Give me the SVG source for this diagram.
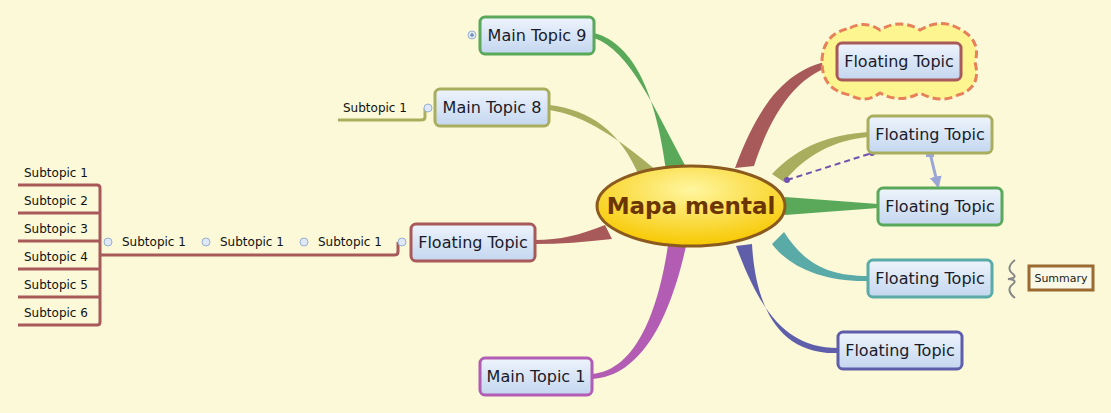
<svg xmlns="http://www.w3.org/2000/svg" width="1111" height="413" viewBox="0 0 1111 413">
<defs>
<linearGradient id="nb" x1="0" y1="0" x2="0" y2="1"><stop offset="0" stop-color="#eef4fc"/><stop offset="1" stop-color="#c3d6ef"/></linearGradient>
<radialGradient id="cg" cx="0.5" cy="0.3" r="0.7"><stop offset="0" stop-color="#fff6a0"/><stop offset="1" stop-color="#f7c800"/></radialGradient>
<marker id="ar" viewBox="0 0 10 10" refX="8" refY="5" markerWidth="4" markerHeight="4" orient="auto"><path d="M0,0L10,5L0,10z" fill="#9aa6d6"/></marker>
</defs>
<style>
.n{fill:url(#nb);stroke-width:3}
.t{font-family:"DejaVu Sans",sans-serif;font-size:16px;fill:#1a1a2a;text-anchor:middle}
.s{font-family:"DejaVu Sans",sans-serif;font-size:12px;fill:#111}
.c{fill:#dfe8f6;stroke:#9ab0d0;stroke-width:1}
.l{fill:none;stroke:#a85a5a;stroke-width:3}
</style>
<rect width="1111" height="413" fill="#fbf9d8"/>
<g id="connectors">
<path d="M666,170 C658,110 640,45 594,33 L594,38 C630,50 655,110 686,167 Z" fill="#5aa85a"/>
<path d="M640,178 C620,130 590,110 549,105 L549,110 C585,115 620,140 656,170 Z" fill="#a9ad5e"/>
<path d="M605,225 C580,235 560,240 535,240 L535,244 C560,244 585,242 612,239 Z" fill="#a85a5a"/>
<path d="M668,245 C660,300 640,370 592,374 L592,379 C645,376 672,310 686,246 Z" fill="#b25db3"/>
<path d="M735,168 C760,100 790,65 837,60 L837,65 C800,72 772,110 754,166 Z" fill="#a85a5a"/>
<path d="M772,174 C800,145 830,135 868,132 L868,137 C835,140 805,155 784,182 Z" fill="#a9ad5e"/>
<path d="M785,197 L878,204 L878,208 L785,215 Z" fill="#5aa85a"/>
<path d="M784,232 C805,265 830,276 868,276 L868,281 C825,282 790,268 772,244 Z" fill="#5aaaa8"/>
<path d="M736,246 C760,310 785,348 838,348 L838,353 C775,355 755,300 752,244 Z" fill="#5e5eab"/>
<path class="l" d="M398,242 L398,252 Q398,255 394,255 L100,255"/>
<path class="l" d="M18,185 L97,185 Q100,185 100,188 L100,322 Q100,325 97,325 L18,325 M18,213 L100,213 M18,241 L100,241 M18,269 L100,269 M18,297 L100,297"/>
<path d="M425,108 L425,117 Q425,120 421,120 L338,120" fill="none" stroke="#a9ad5e" stroke-width="3"/>
<line x1="787" y1="180" x2="872" y2="153" stroke="#7050b0" stroke-width="2" stroke-dasharray="6,4"/>
<circle cx="787" cy="180" r="3" fill="#7050b0"/><circle cx="872" cy="153" r="3" fill="#7050b0"/>
<line x1="930" y1="153" x2="938" y2="186" stroke="#9aa6d6" stroke-width="3" marker-end="url(#ar)"/>
<rect x="926" y="149" width="8" height="8" fill="#9aa6d6"/>
<path d="M1015,260 Q1005,268 1013,274 Q1018,278 1008,279 Q1018,280 1013,284 Q1005,290 1015,298" fill="none" stroke="#888" stroke-width="2"/>
</g>
<g id="central"><ellipse cx="691" cy="206" rx="94" ry="40" fill="url(#cg)" stroke="#8b5a1e" stroke-width="3"/><text x="691" y="214" font-family="DejaVu Sans,sans-serif" font-size="23" font-weight="bold" fill="#6b3500" text-anchor="middle">Mapa mental</text></g>
<g id="mt9"><circle class="c" cx="472" cy="35" r="4"/><path d="M470,35h4M472,33v4" stroke="#5070a0" stroke-width="1"/><rect class="n" x="480" y="17" width="114" height="37" rx="5" stroke="#5aa85a"/><text class="t" x="537" y="41">Main Topic 9</text></g>
<g id="mt8"><circle class="c" cx="428" cy="108" r="4"/><rect class="n" x="435" y="89" width="114" height="37" rx="5" stroke="#a9ad5e"/><text class="t" x="492" y="113">Main Topic 8</text><text class="s" x="343" y="112">Subtopic 1</text></g>
<g id="ftl"><circle class="c" cx="402" cy="242" r="4"/><rect class="n" x="411" y="224" width="124" height="37" rx="5" stroke="#a85a5a"/><text class="t" x="473" y="248">Floating Topic</text></g>
<g id="subs">
<circle class="c" cx="108" cy="242" r="4"/><circle class="c" cx="206" cy="242" r="4"/><circle class="c" cx="304" cy="242" r="4"/>
<text class="s" x="122" y="246">Subtopic 1</text><text class="s" x="220" y="246">Subtopic 1</text><text class="s" x="318" y="246">Subtopic 1</text>
<text class="s" x="24" y="177">Subtopic 1</text><text class="s" x="24" y="205">Subtopic 2</text><text class="s" x="24" y="233">Subtopic 3</text><text class="s" x="24" y="261">Subtopic 4</text><text class="s" x="24" y="289">Subtopic 5</text><text class="s" x="24" y="317">Subtopic 6</text>
</g>
<g id="mt1"><rect class="n" x="480" y="358" width="112" height="37" rx="5" stroke="#b25db3"/><text class="t" x="536" y="382">Main Topic 1</text></g>
<g id="ft1"><path d="M850,28 Q865,20 880,30 Q900,18 920,30 Q940,18 958,28 Q982,40 975,62 Q982,88 958,95 Q940,104 920,93 Q900,104 880,93 Q865,104 850,95 Q822,90 822,62 Q822,34 850,28 Z" fill="#fdf590" stroke="#e8805a" stroke-width="3" stroke-dasharray="8,4"/><rect class="n" x="837" y="43" width="124" height="37" rx="5" stroke="#a85a5a"/><text class="t" x="899" y="67">Floating Topic</text></g>
<g id="ft2"><rect class="n" x="868" y="116" width="124" height="37" rx="5" stroke="#a9ad5e"/><text class="t" x="930" y="140">Floating Topic</text></g>
<g id="ft3"><rect class="n" x="878" y="188" width="124" height="37" rx="5" stroke="#5aa85a"/><text class="t" x="940" y="212">Floating Topic</text></g>
<g id="ft4"><rect class="n" x="868" y="260" width="124" height="37" rx="5" stroke="#5aaaa8"/><text class="t" x="930" y="284">Floating Topic</text></g>
<g id="ft5"><rect class="n" x="838" y="332" width="124" height="37" rx="5" stroke="#5e5eab"/><text class="t" x="900" y="356">Floating Topic</text></g>
<g id="summary"><rect x="1029" y="266" width="64" height="24" fill="#faf8e6" stroke="#9a6a30" stroke-width="3"/><text x="1061" y="282" font-family="DejaVu Sans,sans-serif" font-size="11" fill="#222" text-anchor="middle">Summary</text></g>
</svg>
